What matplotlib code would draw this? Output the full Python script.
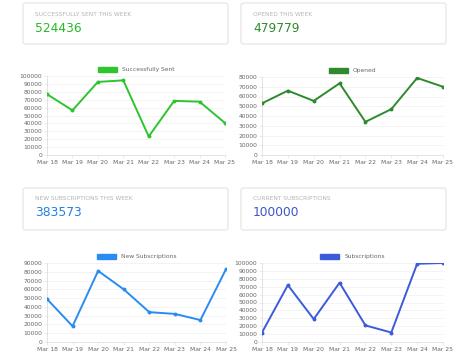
import numpy as np
from matplotlib import pyplot as plt
from matplotlib.patches import FancyBboxPatch, Patch

days = ['Mar 18', 'Mar 19', 'Mar 20', 'Mar 21', 'Mar 22', 'Mar 23', 'Mar 24', 'Mar 25']

sent = [77000, 56500, 92500, 94500, 23500, 68500, 67500, 40500]
opened = [53000, 66000, 55500, 73500, 34000, 47000, 79000, 70000]
new_subs = [49000, 18000, 81000, 60000, 34000, 32000, 25000, 83000]
subs = [12000, 72000, 29000, 75000, 21000, 12000, 99000, 100000]

card_titles = ['SUCCESSFULLY SENT THIS WEEK', 'OPENED THIS WEEK',
               'NEW SUBSCRIPTIONS THIS WEEK', 'CURRENT SUBSCRIPTIONS']
card_values = ['524436', '479779', '383573', '100000']
card_colors = ['#28b828', '#2e8b2e', '#2680e0', '#3a55c8']

series = [sent, opened, new_subs, subs]
labels = ['Successfully Sent', 'Opened', 'New Subscriptions', 'Subscriptions']
colors = ['#2ec42e', '#2f8a2f', '#2a8cf0', '#3b5bdb']
ymax = [100000, 80000, 90000, 100000]

W, H = 474, 355
fig = plt.figure(figsize=(W / 100, H / 100), dpi=100)


def fx(px):
    return px / W


def fy(py):
    return 1 - py / H


# cards: (left, top, right, bottom) in pixels
cards = [(23, 3, 228, 44), (241, 3, 446, 44), (23, 188, 228, 230), (241, 188, 446, 230)]
for (l, t, r, b), title, val, c in zip(cards, card_titles, card_values, card_colors):
    box = FancyBboxPatch((fx(l), fy(b)), fx(r - l), (b - t) / H,
                         boxstyle='round,pad=0,rounding_size=0.006',
                         transform=fig.transFigure, facecolor='white',
                         edgecolor='#e6e6e6', linewidth=0.9)
    fig.patches.append(box)
    fig.text(fx(l + 12), fy(t + 11), title, fontsize=4.2, color='#b4b4b4', va='center')
    fig.text(fx(l + 12), fy(t + 25), val, fontsize=8.8, color=c, va='center')

# axes: (left, top, right, bottom) in pixels
boxes = [(47, 76, 225, 155), (262, 77, 443, 155), (47, 263, 226, 342), (262, 263, 443, 342)]
for (l, t, r, b), y, lab, c, ym in zip(boxes, series, labels, colors, ymax):
    ax = fig.add_axes([fx(l), fy(b), fx(r - l), (b - t) / H])
    x = np.arange(len(days))
    ax.plot(x, y, color=c, lw=1.4, marker='o', ms=1.8, zorder=3)
    ax.set_xlim(0, len(days) - 1)
    ax.set_ylim(0, ym)
    ax.set_yticks(np.arange(0, ym + 1, 10000))
    ax.set_xticks(x)
    ax.set_xticklabels(days)
    ax.tick_params(labelsize=4.3, labelcolor='#666666', length=2, width=0.4,
                   color='#dddddd', pad=1.5)
    ax.grid(axis='y', color='#efefef', lw=0.5)
    ax.set_axisbelow(True)
    for s in ['top', 'right']:
        ax.spines[s].set_visible(False)
    for s in ['left', 'bottom']:
        ax.spines[s].set_color('#d8d8d8')
        ax.spines[s].set_linewidth(0.5)
    ax.legend(handles=[Patch(facecolor=c, edgecolor=c, label=lab)],
              loc='lower center', bbox_to_anchor=(0.5, 1.0), frameon=False,
              fontsize=4.3, handlelength=3.2, handleheight=1.0,
              borderaxespad=0.2, labelcolor='#666666')

fig.savefig('out.png', dpi=100, facecolor='white')
